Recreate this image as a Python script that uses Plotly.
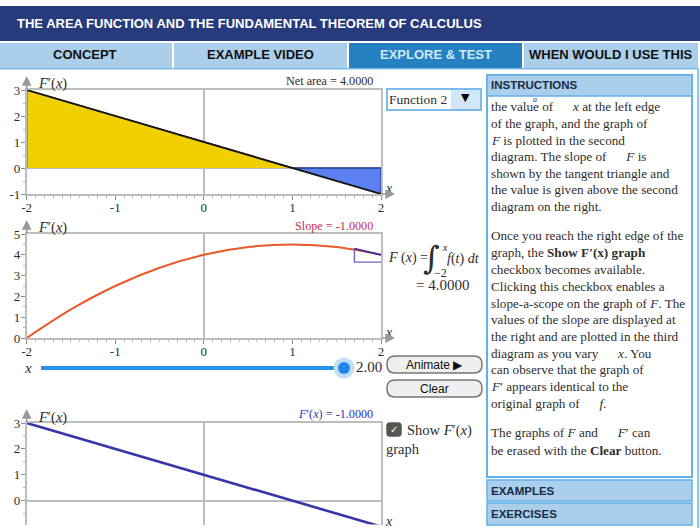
import plotly.graph_objects as go

# values
x_f = [-2, 1, 2]
y_f = [3, 0, -1]
x_F = [-2, -1.5, -1, -0.5, 0, 0.5, 1, 1.5, 2]
y_F = [0, 1.375, 2.5, 3.375, 4, 4.375, 4.5, 4.375, 4]
x_pos = [-2, -2, 1]
y_pos = [0, 3, 0]
x_neg = [1, 2, 2]
y_neg = [0, 0, -1]
x_tan = [1.7, 2]
y_tan = [4.3, 4]
x_tri = [2, 1.7, 1.7]
y_tri = [3.65, 3.65, 4.3]
x_ticks = [-2, -1, 0, 1, 2]
x_ticktext = ["-2", "-1", "0", "1", "2"]

W, H = 700, 528
X = lambda p: p / W
Y = lambda p: 1 - p / H

SERIF = "Liberation Serif"
SANS = "Liberation Sans"
GRID = "#bdbdbd"
TICK = "#8a8a8a"
TXT = "#2e2e2e"

fig = go.Figure()

# graph 1, area under f
fig.add_trace(go.Scatter(x=x_pos, y=y_pos, fill="toself", fillcolor="#f0d000", mode="lines",
                         line=dict(color="#5f5410", width=1.4), xaxis="x", yaxis="y"))
fig.add_trace(go.Scatter(x=x_neg, y=y_neg, fill="toself", fillcolor="#5b80f2", mode="lines",
                         line=dict(color="#27408f", width=1.4), xaxis="x", yaxis="y"))
fig.add_trace(go.Scatter(x=x_f, y=y_f, mode="lines", line=dict(color="#161616", width=1.8),
                         xaxis="x", yaxis="y"))
# graph 2, F with the slope triangle
fig.add_trace(go.Scatter(x=x_F, y=y_F, mode="lines", line=dict(color="#e9582a", width=2, shape="spline"),
                         xaxis="x2", yaxis="y2"))
fig.add_trace(go.Scatter(x=x_tri, y=y_tri, mode="lines", line=dict(color="#6a63c0", width=1.4),
                         xaxis="x2", yaxis="y2"))
fig.add_trace(go.Scatter(x=x_tan, y=y_tan, mode="lines", line=dict(color="#3c2f9c", width=1.8),
                         xaxis="x2", yaxis="y2"))
# graph 3, F'
fig.add_trace(go.Scatter(x=x_f, y=y_f, mode="lines", line=dict(color="#3636a8", width=2.6),
                         xaxis="x3", yaxis="y3"))


def xaxis(anchor, labels=True):
    return dict(domain=[X(26.7), X(381)], range=[-2, 2], anchor=anchor, tickmode="array",
                tickvals=x_ticks, ticktext=x_ticktext, automargin=False,
                showgrid=False, zeroline=True, zerolinecolor=GRID, zerolinewidth=2,
                showline=True, linecolor=GRID, linewidth=1.5, mirror=True,
                ticks="outside" if labels else "", ticklen=4, tickcolor=TICK, showticklabels=labels,
                ticklabelstandoff=-3,
                minor=dict(dtick=0.1, ticks="outside" if labels else "", ticklen=2, tickcolor="#b5b5b5"),
                tickfont=dict(family=SERIF, size=13, color=TXT))


def yaxis(top, bottom, rng, vals, anchor):
    return dict(domain=[Y(bottom), Y(top)], range=rng, anchor=anchor, tickmode="array",
                tickvals=vals, ticktext=[str(v) for v in vals], automargin=False,
                showgrid=False, zeroline=True, zerolinecolor=GRID, zerolinewidth=1.5,
                showline=True, linecolor=GRID, linewidth=1.5, mirror=True,
                ticks="outside", ticklen=4, tickcolor=TICK, ticklabelstandoff=-2,
                minor=dict(dtick=0.5, ticks="outside", ticklen=2, tickcolor="#b5b5b5"),
                tickfont=dict(family=SERIF, size=13, color=TXT))


shapes = []


def rect(x0, y0, x1, y1, fill, line=None, lw=0):
    shapes.append(dict(type="rect", xref="paper", yref="paper", x0=X(x0), x1=X(x1), y0=Y(y0), y1=Y(y1),
                       fillcolor=fill, line=dict(color=line or fill, width=lw), layer="below"))


def round_rect(x0, y0, x1, y1, r, fill, line, lw=1.5):
    p = (f"M {X(x0 + r)} {Y(y0)} L {X(x1 - r)} {Y(y0)} Q {X(x1)} {Y(y0)} {X(x1)} {Y(y0 + r)} "
         f"L {X(x1)} {Y(y1 - r)} Q {X(x1)} {Y(y1)} {X(x1 - r)} {Y(y1)} L {X(x0 + r)} {Y(y1)} "
         f"Q {X(x0)} {Y(y1)} {X(x0)} {Y(y1 - r)} L {X(x0)} {Y(y0 + r)} Q {X(x0)} {Y(y0)} {X(x0 + r)} {Y(y0)} Z")
    shapes.append(dict(type="path", xref="paper", yref="paper", path=p, fillcolor=fill,
                       line=dict(color=line, width=lw), layer="below"))


def circle(cx, cy, r, fill):
    shapes.append(dict(type="circle", xref="paper", yref="paper", x0=X(cx - r), x1=X(cx + r),
                       y0=Y(cy - r), y1=Y(cy + r), fillcolor=fill, line=dict(width=0), layer="above"))


notes = []


def label(x, y, text, size=13, color=TXT, family=SERIF, anchor="left"):
    notes.append(dict(xref="paper", yref="paper", x=X(x), y=Y(y), text=text, showarrow=False,
                      xanchor=anchor, yanchor="middle", borderpad=0,
                      font=dict(family=family, size=size, color=color)))


def arrow(x, y, ax, ay):
    notes.append(dict(xref="paper", yref="paper", x=X(x), y=Y(y), text="", showarrow=True, ax=ax, ay=ay,
                      arrowhead=2, arrowsize=1.3, arrowwidth=1.5, arrowcolor="#9a9a9a"))


# header and tabs
rect(0, 6, 700, 41, "#263a7c")
rect(0, 43, 172, 68, "#abcfea")
rect(174, 43, 347, 68, "#abcfea")
rect(349, 43, 522, 68, "#2581c1")
rect(524, 43, 698, 68, "#abcfea")
rect(0, 68, 699, 69.5, "#7cbcec")
rect(697, 69, 699, 528, "#8cc4ee")
label(16, 23.5, "<b>THE AREA FUNCTION AND THE FUNDAMENTAL THEOREM OF CALCULUS</b>", 13, "#ffffff", SANS)
label(85, 55, "<b>CONCEPT</b>", 13, "#111111", SANS, "center")
label(260, 55, "<b>EXAMPLE VIDEO</b>", 13, "#111111", SANS, "center")
label(436, 55, "<b>EXPLORE &amp; TEST</b>", 13, "#cfe8fb", SANS, "center")
label(611, 55, "<b>WHEN WOULD I USE THIS</b>", 13, "#111111", SANS, "center")

# instructions panel
rect(487, 75, 692, 477, "#ffffff", "#62b0ec", 2)
rect(487, 75, 692, 96, "#abcfea", "#62b0ec", 1.5)
label(490, 85.5, "<b>INSTRUCTIONS</b>", 11.5, "#1a2a44", SANS)
rect(487, 480, 692, 501, "#abcfea", "#62b0ec", 1.5)
rect(487, 503, 692, 525, "#abcfea", "#62b0ec", 1.5)
label(490, 491, "<b>EXAMPLES</b>", 11.5, "#1a2a44", SANS)
label(490, 514, "<b>EXERCISES</b>", 11.5, "#1a2a44", SANS)

lines = [
    (107, "the value of      <i>x</i> at the left edge"),
    (124, "of the graph, and the graph of"),
    (141, "<i>F</i> is plotted in the second"),
    (157, "diagram. The slope of      <i>F</i> is"),
    (174, "shown by the tangent triangle and"),
    (190, "the value is given above the second"),
    (207, "diagram on the right."),
    (236, "Once you reach the right edge of the"),
    (253, "graph, the <b>Show F′(x) graph</b>"),
    (270, "checkbox becomes available."),
    (287, "Clicking this checkbox enables a"),
    (304, "slope-a-scope on the graph of <i>F</i>. The"),
    (320, "values of the slope are displayed at"),
    (337, "the right and are plotted in the third"),
    (354, "diagram as you vary      <i>x</i>. You"),
    (370, "can observe that the graph of"),
    (387, "<i>F</i>′ appears identical to the"),
    (404, "original graph of      <i>f</i>."),
    (433, "The graphs of <i>F</i> and      <i>F</i>′ can"),
    (451, "be erased with the <b>Clear</b> button."),
]
for ly, t in lines:
    label(490, ly - 0.7, t, 13.2)
label(532, 99, "<i>a</i>", 8)

# dropdown
rect(387, 89, 481, 110, "#ffffff", "#7cbcec", 2)
rect(451, 90, 480, 109, "#d3e7f9")
label(388, 99, "Function 2", 13.5)
label(465, 98, "▼", 11, "#000000", "DejaVu Sans", "center")

# graph captions
for cy in (84, 227, 417):
    label(37, cy, "<i>F</i>′(<i>x</i>)", 14.5)
label(373.5, 81, "Net area = 4.0000", 12.2, TXT, SERIF, "right")
label(373.5, 226, "Slope = -1.0000", 12.2, "#c8324c", SERIF, "right")
label(373.5, 414, "<i>F</i>′(<i>x</i>) = -1.0000", 12.2, "#3535b0", SERIF, "right")
label(389, 188, "<i>x</i>", 14, TXT, SERIF, "center")
label(389, 332, "<i>x</i>", 14, TXT, SERIF, "center")
label(389, 521, "<i>x</i>", 14, TXT, SERIF, "center")
arrow(26.7, 76, 0, 15)
arrow(26.7, 220, 0, 15)
arrow(26.7, 409, 0, 15)
arrow(395, 194, -15, 0)
arrow(395, 338, -15, 0)

# formula
label(386.5, 258, "<i>F</i> (<i>x</i>) =", 14)
label(431, 258, "∫", 32, TXT, "DejaVu Serif", "center")
label(441, 247, "<i>x</i>", 10)
label(433, 273, "−2", 12)
label(446, 259, "<i>f</i>(<i>t</i>) <i>dt</i>", 14)
label(415, 284.5, "= 4.0000", 15)

# slider
rect(41, 366, 344, 370, "#2a8fe8")
circle(344, 368, 10.5, "#c3def8")
circle(344, 368, 6, "#1f86ea")
label(28, 368, "<i>x</i>", 15, TXT, SERIF, "center")
label(355, 367, "2.00", 15)

# buttons
round_rect(387, 356, 482, 373, 8, "#efefef", "#777777")
round_rect(387, 380, 482, 397, 8, "#efefef", "#777777")
label(434, 365, "Animate ▶", 12, "#111111", SANS, "center")
label(434, 389, "Clear", 12, "#111111", SANS, "center")

# checkbox
round_rect(387, 423, 401, 436, 3, "#555555", "#555555")
label(394, 429.5, "✓", 10, "#ffffff", "DejaVu Sans", "center")
label(406, 430, "Show <i>F</i>′(<i>x</i>)", 14.5)
label(385, 449, "graph", 14.5)

fig.update_layout(
    width=W, height=H, margin=dict(l=0, r=0, t=0, b=0, autoexpand=False), showlegend=False,
    paper_bgcolor="#ffffff", plot_bgcolor="rgba(0,0,0,0)", hovermode=False,
    xaxis=xaxis("y"),
    yaxis=yaxis(90, 194, [-1, 3], [-1, 0, 1, 2, 3], "x"),
    xaxis2=xaxis("y2"),
    yaxis2=yaxis(234, 338, [0, 5], [0, 1, 2, 3, 4, 5], "x2"),
    xaxis3=dict(xaxis("y3", labels=False), side="top", mirror=False),
    yaxis3=yaxis(423, 524.5, [-0.92, 3], [0, 1, 2, 3], "x3"),
    shapes=shapes, annotations=notes,
)

page_fix = ("var s=document.createElement('style');"
            "s.textContent='html,body{margin:0!important;padding:0;overflow:hidden}';"
            "document.head.appendChild(s);"
            "var g=document.getElementById('{plot_id}');"
            "g.style.position='fixed';g.style.left='0';g.style.top='0';")
fig.write_html("out.html", config={"displayModeBar": False}, post_script=page_fix)
